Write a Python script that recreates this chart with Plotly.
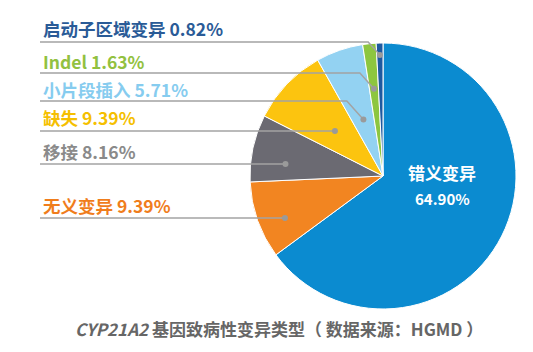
import math
import plotly.graph_objects as go

W, H = 533, 352

# data (clockwise from 12 o'clock)
labels = ["错义变异", "无义变异", "移接", "缺失", "小片段插入", "Indel", "启动子区域变异"]
values = [64.90, 9.39, 8.16, 9.39, 5.71, 1.63, 0.82]
slice_colors = ["#0b8bd0", "#f28521", "#6b6a72", "#fcc40f", "#93d2f2", "#8dc63f", "#1e5aa0"]
text_colors = [None, "#f07d1c", "#8a8a8a", "#f5bf00", "#86ccef", "#92c140", "#2a5b97"]

# label layout (style): line y (px), text y (px), dot position within slice (t) and radius fraction
label_layout = {
    "启动子区域变异": dict(ly=42, ty=28, t=0.5, rf=0.91),
    "Indel": dict(ly=73, ty=61, t=0.5, rf=0.66),
    "小片段插入": dict(ly=101, ty=89, t=0.5, rf=0.45),
    "缺失": dict(ly=131, ty=117, t=0.5, rf=0.5),
    "移接": dict(ly=164, ty=151, t=0.35, rf=0.74),
    "无义变异": dict(ly=218, ty=205, t=0.4, rf=0.8),
}

cx, cy, R = 383, 176, 133
FONT = "Noto Sans CJK SC"

fig = go.Figure(go.Pie(
    labels=labels, values=values, sort=False, direction="clockwise", rotation=0,
    marker=dict(colors=slice_colors, line=dict(color="white", width=1)),
    textinfo="none", hoverinfo="label+percent", showlegend=False,
    domain=dict(x=[(cx - R) / W, (cx + R) / W], y=[(H - cy - R) / H, (H - cy + R) / H]),
))

def px(x):
    return x / W

def py(y):
    return 1 - y / H

shapes = []
annotations = []
total = sum(values)
cum = 0.0
for lab, val, tc in zip(labels, values, text_colors):
    a0 = cum / total * 360
    a1 = (cum + val) / total * 360
    cum += val
    if lab not in label_layout:
        continue
    L = label_layout[lab]
    ang = math.radians(a0 + (a1 - a0) * L["t"])
    r = R * L["rf"]
    dx_, dy_ = cx + r * math.sin(ang), cy - r * math.cos(ang)
    ly = L["ly"]
    if abs(dy_ - ly) < 12:
        dy_ = ly
        path_pts = [(40, ly), (dx_, ly)]
    else:
        ex = dx_ - abs(dy_ - ly) * 0.9
        path_pts = [(40, ly), (ex, ly), (dx_, dy_)]
    path = "M " + " L ".join(f"{px(x)},{py(y)}" for x, y in path_pts)
    shapes.append(dict(type="path", xref="paper", yref="paper", path=path,
                       line=dict(color="#a3a3a3", width=1.5)))
    shapes.append(dict(type="circle", xref="paper", yref="paper",
                       x0=px(dx_ - 3), x1=px(dx_ + 3), y0=py(dy_ + 3), y1=py(dy_ - 3),
                       fillcolor="#9a9a9a", line=dict(width=0)))
    annotations.append(dict(xref="paper", yref="paper", x=px(41), y=py(L["ty"]),
                            xanchor="left", yanchor="middle", showarrow=False,
                            text=f"<b>{lab} {val:.2f}%</b>",
                            font=dict(family=FONT, size=17.5, color=tc)))

annotations.append(dict(xref="paper", yref="paper", x=px(442), y=py(172), showarrow=False,
                        xanchor="center", yanchor="middle",
                        text=f"<b>{labels[0]}</b>", font=dict(family=FONT, size=17, color="white")))
annotations.append(dict(xref="paper", yref="paper", x=px(442), y=py(198), showarrow=False,
                        xanchor="center", yanchor="middle",
                        text=f"<b>{values[0]:.2f}%</b>", font=dict(family=FONT, size=15, color="white")))
annotations.append(dict(xref="paper", yref="paper", x=px(279), y=py(328), showarrow=False,
                        xanchor="center", yanchor="middle",
                        text="<b><i>CYP21A2</i> 基因致病性变异类型（ 数据来源：HGMD ）</b>",
                        font=dict(family=FONT, size=17, color="#666666")))

fig.update_layout(width=W, height=H, margin=dict(l=0, r=0, t=0, b=0),
                  paper_bgcolor="white", plot_bgcolor="white",
                  shapes=shapes, annotations=annotations)
fig.write_html("out.html")
